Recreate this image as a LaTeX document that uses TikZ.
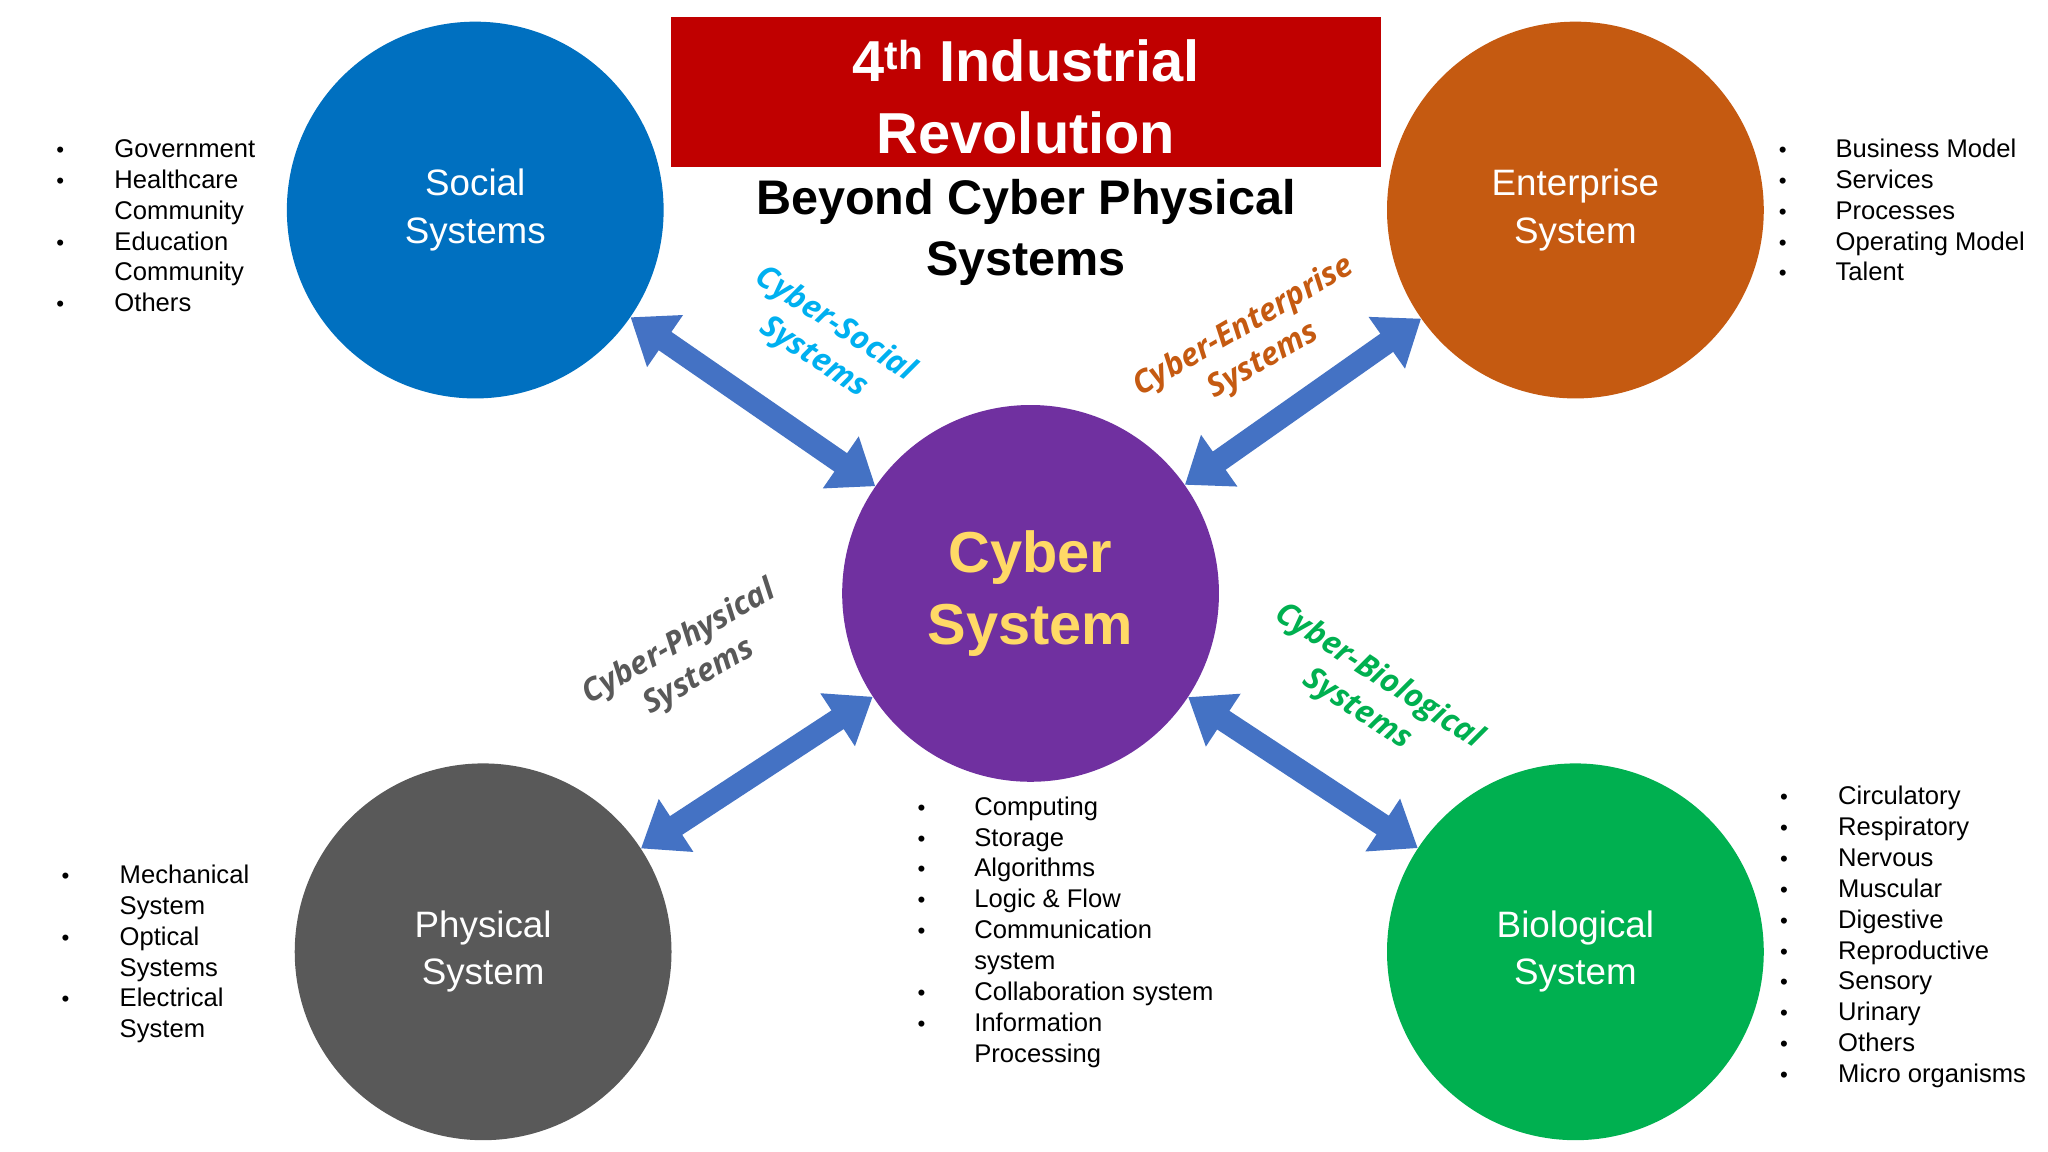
\documentclass[tikz,border=0pt]{standalone}
\usepackage{fontspec}
\setmainfont{Liberation Sans}
\newfontfamily\lblfont{Open Sans}
\usetikzlibrary{arrows.meta}
\definecolor{socblue}{HTML}{0070C0}
\definecolor{entor}{HTML}{C55A11}
\definecolor{cybpur}{HTML}{7030A0}
\definecolor{phygray}{HTML}{595959}
\definecolor{biogreen}{HTML}{00B050}
\definecolor{titlered}{HTML}{C00000}
\definecolor{arrblue}{HTML}{4472C4}
\definecolor{arrdark}{HTML}{2F528F}
\definecolor{cyanlbl}{HTML}{00B0F0}
\definecolor{cybyel}{HTML}{FFD966}
\begin{document}
\begin{tikzpicture}[x=1pt,y=-1pt,
  sys/.style={circle,minimum size=287pt,inner sep=0pt,text=white,font=\fontsize{28}{36}\selectfont,align=center},
  dbl/.style={line width=17pt,draw=arrblue,{Triangle[width=46pt,length=32pt]}-{Triangle[width=46pt,length=32pt]}},
  lbl/.style={font=\lblfont\bfseries\itshape\fontsize{24}{30}\selectfont,align=center},
  itm/.style={anchor=base west,inner sep=0pt,font=\fontsize{19.5}{23}\selectfont},
  bul/.style={anchor=base,inner sep=0pt,font=\fontsize{17}{17}\selectfont}]
\useasboundingbox (0,0) rectangle (1560,877.5);
\fill[white] (0,0) rectangle (1560,877.5);
\node[sys,fill=socblue] (soc) at (362,160) {Social\\Systems};
\node[sys,fill=entor] (ent) at (1200,160) {Enterprise\\System};
\node[sys,fill=cybpur,text=cybyel,font=\bfseries\fontsize{44}{55}\selectfont] (cyb) at (785,452) {Cyber\\System};
\node[sys,fill=phygray] (phy) at (368,725) {Physical\\System};
\node[sys,fill=biogreen] (bio) at (1200,725) {Biological\\System};
\node[fill=titlered,minimum width=541pt,minimum height=114pt,inner sep=0pt] (title) at (781.5,70) {};
\node[text=white,font=\bfseries\fontsize{44}{55}\selectfont,align=center] (tt) at (781.5,74) {4\textsuperscript{th} Industrial\\Revolution};
\node[font=\bfseries\fontsize{37}{46}\selectfont,align=center] (sub) at (781.5,177) {Beyond Cyber Physical\\Systems};
\draw[dbl] (soc) -- (cyb);
\draw[dbl] (ent) -- (cyb);
\draw[dbl] (phy) -- (cyb);
\draw[dbl] (bio) -- (cyb);
\node[lbl,text=cyanlbl,rotate=-33] (l1) at (628,260) {Cyber-Social\\Systems};
\node[lbl,text=entor,rotate=30] (l2) at (955,262) {Cyber-Enterprise\\Systems};
\node[lbl,text=phygray,rotate=30] (l3) at (525,503) {Cyber-Physical\\Systems};
\node[lbl,text=biogreen,rotate=-33] (l4) at (1042,528) {Cyber-Biological\\Systems};
% lists
\foreach \t/\b [count=\i from 0] in {Government/1,Healthcare/1,Community/0,Education/1,Community/0,Others/1}{
  \node[itm] (sa\i) at (87,120+23.5*\i) {\t};
  \ifnum\b=1 \node[bul] (sb\i) at (46,120+23.5*\i) {•};\fi}
\foreach \t/\b [count=\i from 0] in {Business Model/1,Services/1,Processes/1,Operating Model/1,Talent/1}{
  \node[itm] (ea\i) at (1398,120+23.5*\i) {\t};
  \ifnum\b=1 \node[bul] (eb\i) at (1358,120+23.5*\i) {•};\fi}
\foreach \t/\b [count=\i from 0] in {Mechanical/1,System/0,Optical/1,Systems/0,Electrical/1,System/0}{
  \node[itm] (pa\i) at (91,673+23.5*\i) {\t};
  \ifnum\b=1 \node[bul] (pb\i) at (50,673+23.5*\i) {•};\fi}
\foreach \t/\b [count=\i from 0] in {Computing/1,Storage/1,Algorithms/1,Logic \& Flow/1,Communication/1,system/0,Collaboration system/1,Information/1,Processing/0}{
  \node[itm] (ca\i) at (742,621+23.5*\i) {\t};
  \ifnum\b=1 \node[bul] (cb\i) at (702,621+23.5*\i) {•};\fi}
\foreach \t/\b [count=\i from 0] in {Circulatory/1,Respiratory/1,Nervous/1,Muscular/1,Digestive/1,Reproductive/1,Sensory/1,Urinary/1,Others/1,Micro organisms/1}{
  \node[itm] (ba\i) at (1400,613+23.5*\i) {\t};
  \ifnum\b=1 \node[bul] (bb\i) at (1359,613+23.5*\i) {•};\fi}
\end{tikzpicture}
\end{document}
